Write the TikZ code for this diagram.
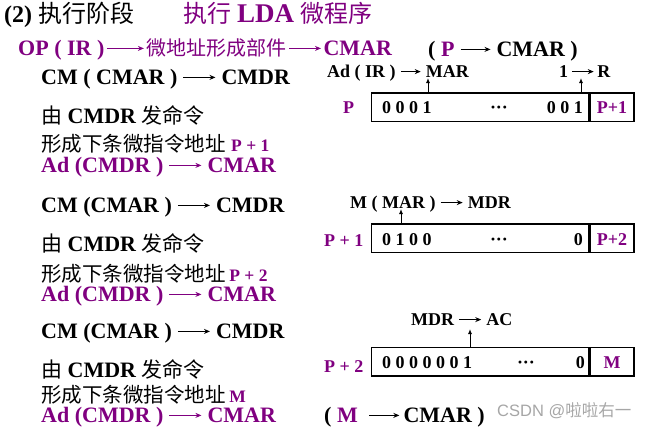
\documentclass[tikz,border=0pt]{standalone}
\usepackage{fontspec}
\setmainfont{Liberation Serif}
\newfontfamily\cjk{Noto Sans CJK SC}
\newfontfamily\wmfont{Liberation Sans}
\usetikzlibrary{arrows.meta}
\definecolor{lda}{HTML}{800080}
\newcommand\zh[1]{{\cjk\mdseries #1}}
\newcommand\longarr[1][32pt]{\tikz[baseline=-0.3em]\draw[-{Stealth[length=6pt,width=5pt]}, line width=1.1pt] (0pt,0pt) -- (#1,0pt);}
\tikzset{
  big/.style={anchor=base west, inner sep=0pt, font=\bfseries\fontsize{22}{24}\selectfont},
  mid/.style={anchor=base west, inner sep=0pt, font=\bfseries\fontsize{18}{20}\selectfont},
  cell/.style={draw, line width=1.6pt, minimum height=28.4pt, inner sep=0pt, anchor=north west},
  ptr/.style={-{Latex[length=5pt,width=4pt]}, line width=1pt}
}
\begin{document}
\begin{tikzpicture}[x=1pt,y=-1pt]
\useasboundingbox (0,0) rectangle (648,429);
% title
\node[big, font=\bfseries\fontsize{24}{26}\selectfont] (title) at (4,22) {(2) \zh{执行阶段}};
\node[big, lda, font=\bfseries\fontsize{24}{26}\selectfont] (ldatitle) at (183,22) {\zh{执行} {\fontsize{27}{30}\selectfont LDA} \zh{微程序}};
\node[big, lda] (op) at (18,55) {OP ( IR )\hspace{2pt}\longarr[37pt]\hspace{2pt}\zh{\fontsize{20}{22}\selectfont 微地址形成部件}\hspace{2pt}\longarr\hspace{2pt}CMAR};
\node[big] (pcmar) at (428,56) {( {\color{lda}P} \longarr[30pt] CMAR )};
% left column
\node[big] (cm1) at (41,84) {CM ( CMAR ) \longarr\ CMDR};
\node[big] (cmd1) at (41,123) {\zh{\fontsize{21}{24}\selectfont 由} CMDR \zh{\fontsize{21}{24}\selectfont 发命令}};
\node[big] (nx1) at (41,151) {\zh{\fontsize{20.5}{22}\selectfont 形成下条微指令地址}\ {\color{lda}\fontsize{17.5}{18}\selectfont P + 1}};
\node[big, lda] (ad1) at (41,172) {Ad (CMDR ) \longarr\ CMAR};
\node[big] (cm2) at (41,212) {CM (CMAR ) \longarr\ CMDR};
\node[big] (cmd2) at (41,251) {\zh{\fontsize{21}{24}\selectfont 由} CMDR \zh{\fontsize{21}{24}\selectfont 发命令}};
\node[big] (nx2) at (41,281) {\zh{\fontsize{20.5}{22}\selectfont 形成下条微指令地址}\,{\color{lda}\fontsize{17.5}{18}\selectfont P + 2}};
\node[big, lda] (ad2) at (41,301) {Ad (CMDR ) \longarr\ CMAR};
\node[big] (cm3) at (41,338) {CM (CMAR ) \longarr\ CMDR};
\node[big] (cmd3) at (41,377) {\zh{\fontsize{21}{24}\selectfont 由} CMDR \zh{\fontsize{21}{24}\selectfont 发命令}};
\node[big] (nx3) at (41,402) {\zh{\fontsize{20.5}{22}\selectfont 形成下条微指令地址}\,{\color{lda}\fontsize{17.5}{18}\selectfont M}};
\node[big, lda] (ad3) at (41,422) {Ad (CMDR ) \longarr\ CMAR};
% micro instruction P
\node[cell, minimum width=217pt] (w1) at (370.7,92.3) {};
\node[cell, minimum width=44pt] (n1) at (w1.north east) {};
\node[mid, lda] (p0) at (343,113) {P};
\node[mid] (b1) at (382,113) {0 0 0 1};
\node[mid, anchor=base] (d1) at (499,113) {···};
\node[mid, anchor=base east] (e1) at (583,113) {0 0 1};
\node[mid, lda, anchor=base] (q1) at (n1.center |- 0,113) {P+1};
\node[mid] (l1) at (327,77) {Ad ( IR ) \longarr[20pt] MAR};
\node[mid] (r1) at (559,77) {1\,\longarr[22pt]\,R};
\coordinate (a1) at (428,78);
\coordinate (a2) at (581,78);
\draw[ptr] (a1 |- w1.north) -- (a1);
\draw[ptr] (a2 |- w1.north) -- (a2);
% micro instruction P+1
\node[cell, minimum width=217pt] (w2) at (370.7,223.3) {};
\node[cell, minimum width=44pt] (n2) at (w2.north east) {};
\node[mid, lda] (p1) at (324,246) {P + 1};
\node[mid] (b2) at (382,245) {0 1 0 0};
\node[mid, anchor=base] (d2) at (499,245) {···};
\node[mid, anchor=base east] (e2) at (583,245) {0};
\node[mid, lda, anchor=base] (q2) at (n2.center |- 0,245) {P+2};
\node[mid] (l2) at (350,208) {M ( MAR ) \longarr[22pt] MDR};
\coordinate (a3) at (401,209);
\draw[ptr] (a3 |- w2.north) -- (a3);
% micro instruction P+2
\node[cell, minimum width=217pt] (w3) at (370.7,346.7) {};
\node[cell, minimum width=44pt] (n3) at (w3.north east) {};
\node[mid, lda] (p2) at (324,372) {P + 2};
\node[mid] (b3) at (382,368) {0 0 0 0 0 0 1};
\node[mid, anchor=base] (d3) at (526,368) {···};
\node[mid, anchor=base east] (e3) at (585,368) {0};
\node[mid, lda, anchor=base] (q3) at (n3.center |- 0,368) {M};
\node[mid] (l3) at (411,325) {MDR \longarr[22pt] AC};
\coordinate (a4) at (470,329);
\draw[ptr] (a4 |- w3.north) -- (a4);
% next address
\node[big] (mcmar) at (324,422) {( {\color{lda}M} \ \longarr[30pt]\,CMAR )};
\node[anchor=base west, inner sep=0pt, text=gray!70, font=\wmfont\fontsize{16.5}{18}\selectfont] (wm) at (497,416) {CSDN @{\cjk 啦啦右一}};
\end{tikzpicture}
\end{document}
